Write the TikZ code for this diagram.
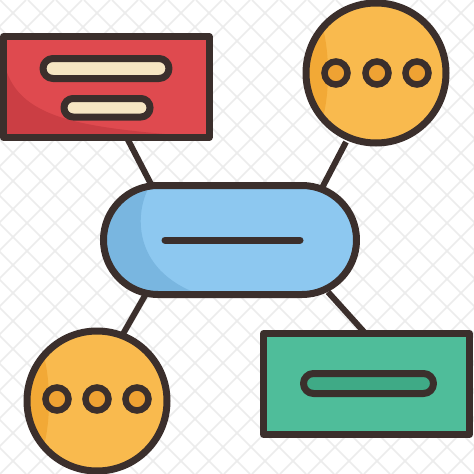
\documentclass[tikz,border=0pt]{standalone}
\usetikzlibrary{calc}
\definecolor{ink}{HTML}{3B2F2C}
\definecolor{redf}{HTML}{DF4A4F}
\definecolor{redd}{HTML}{CB3E44}
\definecolor{cream}{HTML}{F6E6C3}
\definecolor{yel}{HTML}{F9BA4E}
\definecolor{yeld}{HTML}{F2A936}
\definecolor{dotf}{HTML}{EFA233}
\definecolor{bluef}{HTML}{8DC8F0}
\definecolor{blued}{HTML}{79B6E0}
\definecolor{greenf}{HTML}{4FBD9A}
\definecolor{greend}{HTML}{3FAA86}
\definecolor{wm}{HTML}{ECECEC}
\tikzset{
  outl/.style={draw=ink,line width=7pt,line join=round},
  conn/.style={draw=ink,line width=6pt},
  dotc/.style={draw=ink,fill=dotf,line width=6.5pt},
}
\begin{document}
\begin{tikzpicture}[x=1pt,y=-1pt]
\useasboundingbox (0,0) rectangle (474,474);
\fill[white] (0,0) rectangle (474,474);
% watermark grid
\begin{scope}
\clip (0,0) rectangle (474,474);
\foreach \c in {-476,-448,...,476} {
  \draw[wm,line width=1.6pt] (\c,0) -- ++(474,474);
  \draw[wm,line width=1.6pt] (\c+474,0) -- ++(-474,474);
}
\end{scope}
% connector anchor points
\coordinate (rA) at (127,138);
\coordinate (pA) at (153,188);
\coordinate (cA) at (346,142);
\coordinate (pB) at (322,188);
\coordinate (pC) at (147,292);
\coordinate (dA) at (123,334);
\coordinate (pD) at (328,292);
\coordinate (gA) at (365,333);
\draw[conn] (rA) -- (pA);
\draw[conn] (cA) -- (pB);
\draw[conn] (pC) -- (dA);
\draw[conn] (pD) -- (gA);
% red box
\fill[redf] (3.5,36.5) rectangle (209,137.5);
\begin{scope}
\clip (3.5,36.5) rectangle (209,137.5);
\fill[redd] (3.5,60) .. controls (15,120) and (80,128) .. (209,137.5) -- (3.5,137.5) -- cycle;
\end{scope}
\draw[outl] (3.5,36.5) rectangle (209,137.5);
\draw[outl,fill=cream,rounded corners=10pt] (43,58.5) rectangle (169,78.5);
\draw[outl,fill=cream,rounded corners=9pt] (64,98.5) rectangle (150,117);
% top-right circle
\fill[yel] (376,73) circle (70);
\begin{scope}
\clip (376,73) circle (70);
\fill[yeld] (306,73) ellipse (22 and 70);
\end{scope}
\draw[outl] (376,73) circle (70);
\draw[dotc] (336,73) circle (11.5);
\draw[dotc] (377,73) circle (11.5);
\draw[dotc] (417,73) circle (11.5);
% blue pill
\fill[bluef,rounded corners=54.5pt] (103.5,185.5) rectangle (356.5,294.5);
\begin{scope}
\clip[rounded corners=54.5pt] (103.5,185.5) rectangle (356.5,294.5);
\fill[blued] (103.5,185.5) -- (150,185.5) .. controls (135,210) and (130,270) .. (200,294.5) -- (103.5,294.5) -- cycle;
\end{scope}
\draw[outl,rounded corners=54.5pt] (103.5,185.5) rectangle (356.5,294.5);
\draw[ink,line width=7pt,line cap=round] (165,240) -- (300,240);
% bottom-left circle
\fill[yel] (97,401) circle (70);
\begin{scope}
\clip (97,401) circle (70);
\fill[yeld] (27,401) ellipse (22 and 70);
\end{scope}
\draw[outl] (97,401) circle (70);
\draw[dotc] (57,399) circle (11.5);
\draw[dotc] (97,399) circle (11.5);
\draw[dotc] (137,399) circle (11.5);
% green box
\fill[greenf] (263.5,333.5) rectangle (469.5,434.5);
\draw[outl] (263.5,333.5) rectangle (469.5,434.5);
\draw[outl,fill=greend,rounded corners=10pt] (303.5,373.5) rectangle (433.5,393.5);
\end{tikzpicture}
\end{document}
